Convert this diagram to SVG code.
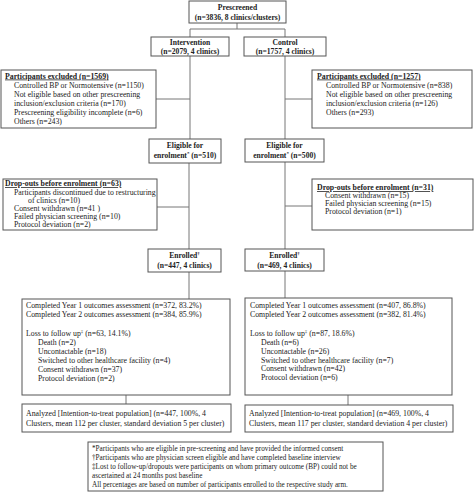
<svg xmlns="http://www.w3.org/2000/svg" width="474" height="493" viewBox="0 0 474 493">
<style>
text{font-family:"Liberation Serif","Times New Roman",serif;fill:#222;font-size:7.8px}
.b{font-weight:bold;text-anchor:middle;font-size:7.6px}
.h{font-weight:bold;text-decoration:underline}
.f{font-size:7.2px}
.box{fill:#fff;stroke:#555;stroke-width:1}
.sh{fill:#bbb}
#connectors path{fill:none;stroke:#777;stroke-width:1}
</style>
<rect width="474" height="493" fill="#fff"/>
<g id="connectors">
<path d="M237,23V29M190,29H285M190,29V37M285,29V37"/>
<path d="M190,56V139M190,99H156"/>
<path d="M285,56V139M285,99H312"/>
<path d="M189,163V249M189,207H157"/>
<path d="M285,162V249M285,206H312"/>
<path d="M189,272V299M285,271V298"/>
<path d="M126,395V404M348,395V405"/>
</g>
<g id="prescreened">
<rect class="box" x="189" y="1" width="97" height="22"/>
<text class="b" x="237.5" y="10">Prescreened</text>
<text class="b" x="237.5" y="19.5">(n=3836, 8 clinics/clusters)</text>
</g>
<g id="intervention">
<rect class="box" x="151" y="37" width="78" height="19"/>
<text class="b" x="190" y="45">Intervention</text>
<text class="b" x="190" y="53.5">(n=2079, 4 clinics)</text>
</g>
<g id="control">
<rect class="box" x="244" y="37" width="82" height="19"/>
<text class="b" x="285" y="45">Control</text>
<text class="b" x="285" y="53.5">(n=1757, 4 clinics)</text>
</g>
<g id="excluded-left">
<rect class="box" x="1" y="70" width="155" height="58"/>
<text class="h" x="5" y="78.5">Participants excluded (n=1569)</text>
<text x="14" y="87.5">Controlled BP or Normotensive (n=1150)</text>
<text x="14" y="96.5">Not eligible based on other prescreening</text>
<text x="14" y="105.5">inclusion/exclusion criteria (n=170)</text>
<text x="14" y="114.5">Prescreening eligibility incomplete (n=6)</text>
<text x="14" y="123.5">Others (n=243)</text>
</g>
<g id="excluded-right">
<rect class="box" x="312" y="70" width="160" height="58"/>
<text class="h" x="317" y="78.5">Participants excluded (n=1257)</text>
<text x="326" y="87.5">Controlled BP or Normotensive (n=838)</text>
<text x="326" y="96.5">Not eligible based on other prescreening</text>
<text x="326" y="105.5">inclusion/exclusion criteria (n=126)</text>
<text x="326" y="114.5">Others (n=293)</text>
</g>
<g id="eligible-left">
<rect class="box" x="149" y="139" width="72" height="24"/>
<text class="b" x="185" y="148">Eligible for</text>
<text class="b" x="185" y="158">enrolment<tspan font-size="5" dy="-3">*</tspan><tspan dy="3"> (n=510)</tspan></text>
</g>
<g id="eligible-right">
<rect class="box" x="245" y="139" width="79" height="23"/>
<text class="b" x="284.5" y="148">Eligible for</text>
<text class="b" x="284.5" y="158">enrolment<tspan font-size="5" dy="-3">*</tspan><tspan dy="3"> (n=500)</tspan></text>
</g>
<g id="dropouts-left">
<rect class="box" x="3" y="179" width="154" height="51"/>
<text class="h" x="5" y="186">Drop-outs before enrolment (n=63)</text>
<text x="14" y="194.5">Participants discontinued due to restructuring</text>
<text x="28" y="202.5">of clinics (n=10)</text>
<text x="14" y="211">Consent withdrawn (n=41 )</text>
<text x="14" y="219">Failed physician screening (n=10)</text>
<text x="14" y="227">Protocol deviation (n=2)</text>
</g>
<g id="dropouts-right">
<rect class="box" x="312" y="179" width="161" height="51"/>
<text class="h" x="317" y="190">Drop-outs before enrolment (n=31)</text>
<text x="325" y="198">Consent withdrawn (n=15)</text>
<text x="325" y="206">Failed physician screening (n=15)</text>
<text x="325" y="214">Protocol deviation (n=1)</text>
</g>
<g id="enrolled-left">
<rect class="box" x="148" y="249" width="73" height="23"/>
<text class="b" x="184.5" y="258">Enrolled<tspan font-size="5" dy="-3">†</tspan></text>
<text class="b" x="184.5" y="268">(n=447, 4 clinics)</text>
</g>
<g id="enrolled-right">
<rect class="box" x="245" y="249" width="79" height="22"/>
<text class="b" x="284.5" y="257.5">Enrolled<tspan font-size="5" dy="-3">†</tspan></text>
<text class="b" x="284.5" y="267.5">(n=469, 4 clinics)</text>
</g>
<g id="followup-left">
<rect class="box" x="22" y="299" width="208" height="96"/>
<text x="26" y="307.5">Completed Year 1 outcomes assessment (n=372, 83.2%)</text>
<text x="26" y="317">Completed Year 2 outcomes assessment (n=384, 85.9%)</text>
<text x="26" y="336">Loss to follow up<tspan font-size="5" dy="-3">‡</tspan><tspan dy="3"> (n=63, 14.1%)</tspan></text>
<text x="38" y="344.5">Death (n=2)</text>
<text x="38" y="353.5">Uncontactable (n=18)</text>
<text x="38" y="362.5">Switched to other healthcare facility (n=4)</text>
<text x="38" y="371.5">Consent withdrawn (n=37)</text>
<text x="38" y="380.5">Protocol deviation (n=2)</text>
</g>
<g id="followup-right">
<rect class="box" x="245" y="298" width="207" height="97"/>
<text x="250" y="307.5">Completed Year 1 outcomes assessment (n=407, 86.8%)</text>
<text x="250" y="317">Completed Year 2 outcomes assessment (n=382, 81.4%)</text>
<text x="250" y="336">Loss to follow up<tspan font-size="5" dy="-3">‡</tspan><tspan dy="3"> (n=87, 18.6%)</tspan></text>
<text x="261" y="344.5">Death (n=6)</text>
<text x="261" y="353.5">Uncontactable (n=26)</text>
<text x="261" y="362.5">Switched to other healthcare facility (n=7)</text>
<text x="261" y="371">Consent withdrawn (n=42)</text>
<text x="261" y="379.5">Protocol deviation (n=6)</text>
</g>
<g id="analyzed-left">
<rect class="box" x="22" y="404" width="209" height="28"/>
<text x="26" y="415.5">Analyzed [Intention-to-treat population] (n=447, 100%, 4</text>
<text x="26" y="425.5">Clusters, mean 112 per cluster, standard deviation 5 per cluster)</text>
</g>
<g id="analyzed-right">
<rect class="box" x="245" y="405" width="208" height="27"/>
<text x="249" y="415.5">Analyzed [Intention-to-treat population] (n=469, 100%, 4</text>
<text x="249" y="425.5">Clusters, mean 117 per cluster, standard deviation 4 per cluster)</text>
</g>
<g id="footnote">
<rect class="box" x="88" y="442" width="295" height="49"/>
<text class="f" x="92" y="450.5">*Participants who are eligible in pre-screening and have provided the informed consent</text>
<text class="f" x="92" y="459.5">†Participants who are physician screen eligible and have completed baseline interview</text>
<text class="f" x="92" y="468.5">‡Lost to follow-up/dropouts were participants on whom primary outcome (BP) could not be</text>
<text class="f" x="92" y="477.5">ascertained at 24 months post baseline</text>
<text class="f" x="92" y="486.5">All percentages are based on number of participants enrolled to the respective study arm.</text>
</g>
</svg>
